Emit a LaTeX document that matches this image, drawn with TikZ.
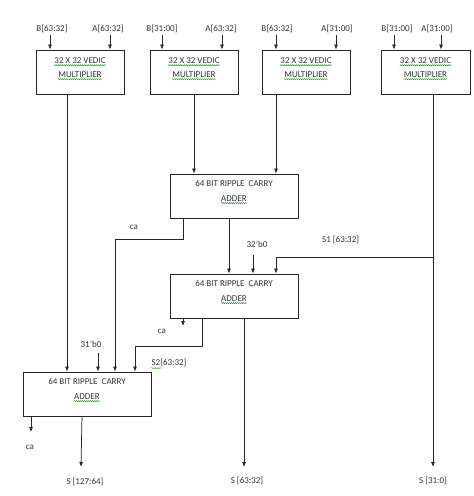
\documentclass[tikz,border=0pt]{standalone}
\usepackage{fontspec}
\setmainfont{Carlito}
\usetikzlibrary{arrows.meta,decorations.pathmorphing,calc}
\begin{document}
\begin{tikzpicture}[x=1pt,y=-1pt,
  box/.style={draw=black!85, line width=0.8pt, inner sep=0pt},
  arr/.style={draw=black!85, line width=0.75pt, -{Latex[length=5pt,width=4pt]}},
  ln/.style={draw=black!85, line width=0.75pt},
  lbl/.style={font=\fontsize{9}{10}\selectfont, text=black!80, inner sep=0pt},
  wavy/.style={draw=green!55!black, line width=0.4pt, decorate,
     decoration={snake, amplitude=0.5pt, segment length=2pt}}]
\useasboundingbox (0,0) rectangle (474,496);
% multiplier boxes
\node[box, minimum width=88, minimum height=44] (m1) at (80,72) {};
\node[box, minimum width=88, minimum height=44] (m2) at (194,72) {};
\node[box, minimum width=88, minimum height=44] (m3) at (306,72) {};
\node[box, minimum width=89, minimum height=44] (m4) at (425.5,72) {};
\foreach \b/\x in {m1/80, m2/194, m3/306, m4/425.5}{
  \node[lbl] (\b a) at (\x,61) {32 X 32 VEDIC};
  \node[lbl] (\b b) at (\x,75) {MULTIPLIER};
  \draw[wavy] ([yshift=-1pt]\b a.south west) -- ([yshift=-1pt]\b a.south east);
  \draw[wavy] ([yshift=-1pt]\b b.south west) -- ([yshift=-1pt]\b b.south east);
}
% adders
\node[box, minimum width=128, minimum height=44] (a1) at (234,196) {};
\node[box, minimum width=128, minimum height=44] (a2) at (234,296) {};
\node[box, minimum width=128, minimum height=44] (a3) at (87,394) {};
\foreach \b/\x/\y in {a1/234/196, a2/234/296, a3/87/394}{
  \node[lbl] (\b a) at (\x,\y-13) {64 BIT RIPPLE\ \ CARRY};
  \node[lbl] (\b b) at (\x,\y+3) {ADDER};
  \draw[wavy] ([yshift=-1pt]\b b.south west) -- ([yshift=-1pt]\b b.south east);
}
% input labels
\node[lbl] (lb1) at (52,29) {B[63:32]};
\node[lbl] (la1) at (108,29) {A[63:32]};
\node[lbl] (lb2) at (162,29) {B[31:00]};
\node[lbl] (la2) at (221,29) {A[63:32]};
\node[lbl] (lb3) at (277,29) {B[63:32]};
\node[lbl] (la3) at (337,29) {A[31:00]};
\node[lbl] (lb4) at (397,29) {B[31:00]};
\node[lbl] (la4) at (437,29) {A[31:00]};
\foreach \n/\x in {ib1/50, ia1/110, ib2/162, ia2/222, ib3/276, ia3/336, ib4/394, ia4/441}{
  \coordinate (\n) at (\x,35);
}
\draw[arr] (ib1) -- (ib1 |- m1.north);
\draw[arr] (ia1) -- (ia1 |- m1.north);
\draw[arr] (ib2) -- (ib2 |- m2.north);
\draw[arr] (ia2) -- (ia2 |- m2.north);
\draw[arr] (ib3) -- (ib3 |- m3.north);
\draw[arr] (ia3) -- (ia3 |- m3.north);
\draw[arr] (ib4) -- (ib4 |- m4.north);
\draw[arr] (ia4) -- (ia4 |- m4.north);
% other labels
\node[lbl] (ca1) at (134,227) {ca};
\node[lbl] (k32) at (257,244) {32'b0};
\node[lbl, anchor=west] (s1) at (322,240) {S1 [63:32]};
\node[lbl] (ca2) at (162,331) {ca};
\node[lbl] (s2) at (169,363) {S2[63:32]};
\draw[wavy] ([yshift=-1pt]s2.south west) -- ([xshift=10pt,yshift=-1pt]s2.south west);
\node[lbl] (k31) at (91,344) {31'b0};
\node[lbl] (ca3) at (30,447) {ca};
\node[lbl] (o127) at (85,482) {S [127:64]};
\node[lbl] (o63) at (247,481) {S [63:32]};
\node[lbl] (o31) at (433,481) {S [31:0]};
% multiplier outputs
\coordinate (p1) at (67,94);
\coordinate (p2) at (194,94);
\coordinate (p3) at (276,94);
\coordinate (p4) at (433,94);
\coordinate (e4) at (433,467);
\coordinate (j4) at (433,257);
\draw[arr] (p1) -- (p1 |- a3.north);
\draw[arr] (p2) -- (p2 |- a1.north);
\draw[arr] (p3) -- (p3 |- a1.north);
\draw[arr] (p4) -- (e4);
\draw[arr] (j4) -| (p3 |- a2.north);
% adder 1 outputs
\coordinate (q1) at (183,218);
\coordinate (q1b) at (183,239);
\coordinate (q1c) at (115,239);
\draw[arr] (q1) -- (q1b) -- (q1c) -- (q1c |- a3.north);
\coordinate (q2) at (229,218);
\draw[arr] (q2) -- (q2 |- a2.north);
\coordinate (k32s) at (253,255);
\draw[arr] (k32s) -- (k32s |- a2.north);
% adder 2 outputs
\coordinate (r1) at (183,318);
\coordinate (r1e) at (183,326);
\draw[arr] (r1) -- (r1e);
\coordinate (r2) at (202,318);
\coordinate (r2b) at (202,346);
\coordinate (r2c) at (135,346);
\draw[arr] (r2) -- (r2b) -- (r2c) -- (r2c |- a3.north);
\coordinate (r3) at (244,318);
\coordinate (r3e) at (244,467);
\draw[arr] (r3) -- (r3e);
% adder 3 inputs / outputs
\coordinate (k31s) at (98,353);
\draw[arr] (k31s) -- (k31s |- a3.north);
\coordinate (t1) at (31,416);
\coordinate (t1e) at (31,432);
\draw[arr] (t1) -- (t1e);
\coordinate (t2) at (82,416);
\coordinate (t2e) at (81,467);
\draw[arr] (t2) -- (t2e);
\end{tikzpicture}
\end{document}
